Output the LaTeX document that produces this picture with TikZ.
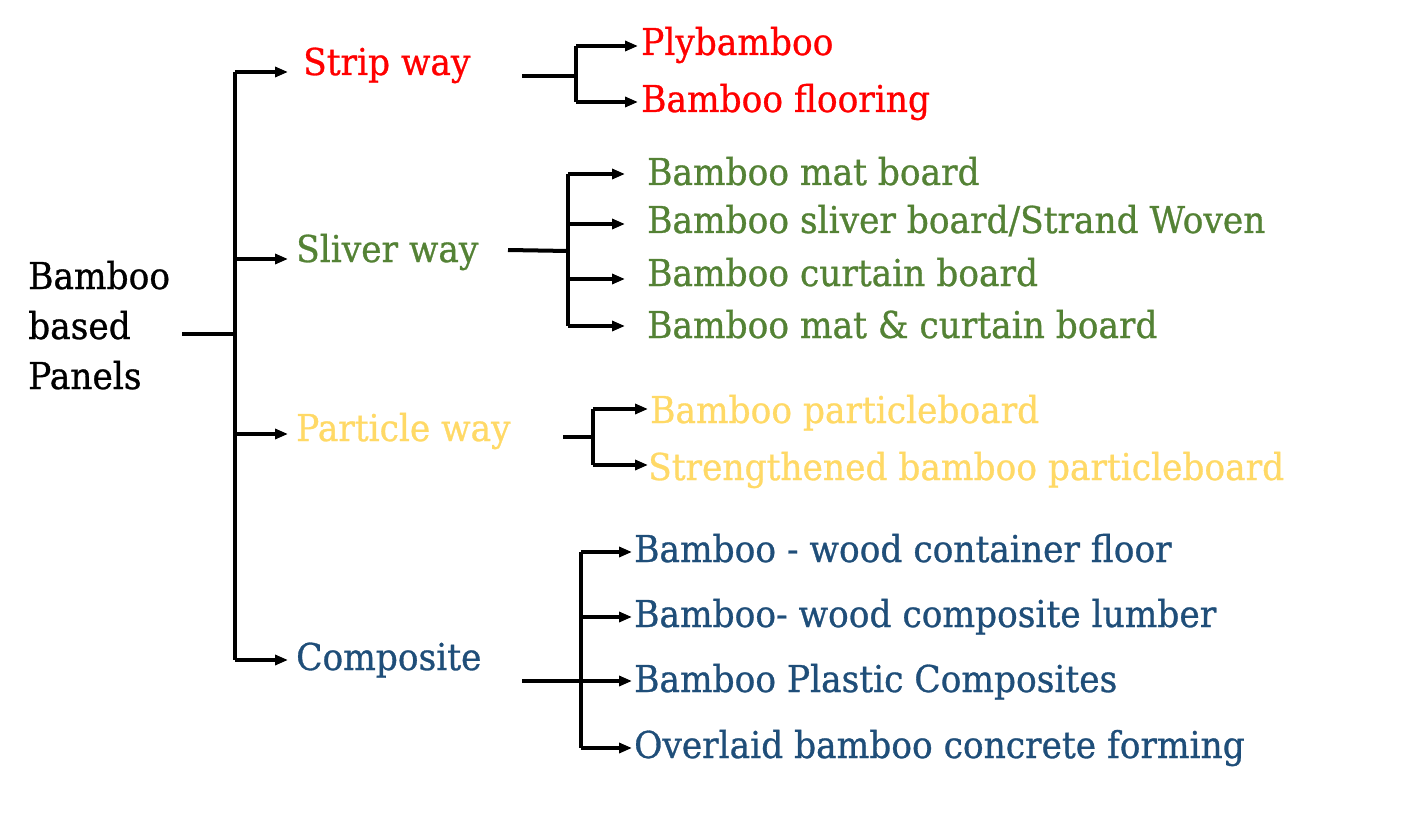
\documentclass[tikz,border=0pt]{standalone}
\usepackage{fontspec}
\setmainfont{DejaVu Serif}[FakeStretch=0.93,FakeBold=0.8]
\usetikzlibrary{arrows.meta}
\definecolor{cred}{HTML}{FF0000}
\definecolor{cgreen}{HTML}{548235}
\definecolor{cyellow}{HTML}{FFD966}
\definecolor{cblue}{HTML}{1F4E79}
\begin{document}
\begin{tikzpicture}[x=1pt,y=-1pt,
  lbl/.style={anchor=base west, inner sep=0pt, font=\fontsize{37}{37}\selectfont},
  ln/.style={line width=4pt},
  arr/.style={line width=4pt, -{Triangle[length=13pt,width=10pt]}}]
\useasboundingbox (0,0) rectangle (1411,829);

% root text
\node[lbl] (root1) at (28,289) {Bamboo};
\node[lbl] (root2) at (28,339) {based};
\node[lbl] (root3) at (28,389) {Panels};

% level 1
\node[lbl, text=cred]    (strip)    at (303,75)  {Strip way};
\node[lbl, text=cgreen]  (sliver)   at (296,262) {Sliver way};
\node[lbl, text=cyellow] (particle) at (296,441) {Particle way};
\node[lbl, text=cblue]   (comp)     at (296,670) {Composite};

% level 2
\node[lbl, text=cred] (s1) at (641,55)  {Plybamboo};
\node[lbl, text=cred] (s2) at (641,112) {Bamboo flooring};

\node[lbl, text=cgreen] (g1) at (647,185) {Bamboo mat board};
\node[lbl, text=cgreen] (g2) at (647,233) {Bamboo sliver board/Strand Woven};
\node[lbl, text=cgreen] (g3) at (647,286) {Bamboo curtain board};
\node[lbl, text=cgreen] (g4) at (647,338) {Bamboo mat \& curtain board};

\node[lbl, text=cyellow] (p1) at (650,423) {Bamboo particleboard};
\node[lbl, text=cyellow] (p2) at (648,480) {Strengthened bamboo particleboard};

\node[lbl, text=cblue] (c1) at (634,562) {Bamboo - wood container floor};
\node[lbl, text=cblue] (c2) at (634,627) {Bamboo- wood composite lumber};
\node[lbl, text=cblue] (c3) at (634,692) {Bamboo Plastic Composites};
\node[lbl, text=cblue] (c4) at (634,758) {Overlaid bamboo concrete forming};

% main trunk
\coordinate (r0) at (182,334);
\coordinate (rj) at (235,334);
\coordinate (t1) at (235,72);
\coordinate (t2) at (235,259);
\coordinate (t3) at (235,434);
\coordinate (t4) at (235,660);
\draw[ln] (r0) -- (rj);
\draw[ln] (t1) -- (t4);
\draw[arr, shorten >=15pt] (t1) -- (t1 -| strip.west);
\draw[arr, shorten >=8pt]  (t2) -- (t2 -| sliver.west);
\draw[arr, shorten >=8pt]  (t3) -- (t3 -| particle.west);
\draw[arr, shorten >=8pt]  (t4) -- (t4 -| comp.west);

% strip bracket
\coordinate (sa) at (522,76);
\coordinate (sj) at (576,76);
\coordinate (sv1) at (576,46);
\coordinate (sv2) at (576,102);
\draw[ln] (sa) -- (sj);
\draw[ln] (sv1) -- (sv2);
\draw[arr, shorten >=3pt] (sv1) -- (sv1 -| s1.west);
\draw[arr, shorten >=3pt] (sv2) -- (sv2 -| s2.west);

% sliver bracket
\coordinate (ga) at (508,250);
\coordinate (gj) at (568,251);
\coordinate (gv1) at (568,174);
\coordinate (gv2) at (568,224);
\coordinate (gv3) at (568,279);
\coordinate (gv4) at (568,326);
\draw[ln] (ga) -- (gj);
\draw[ln] (gv1) -- (gv4);
\draw[arr, shorten >=22pt] (gv1) -- (gv1 -| g1.west);
\draw[arr, shorten >=22pt] (gv2) -- (gv2 -| g2.west);
\draw[arr, shorten >=22pt] (gv3) -- (gv3 -| g3.west);
\draw[arr, shorten >=22pt] (gv4) -- (gv4 -| g4.west);

% particle bracket
\coordinate (pa) at (563,437);
\coordinate (pj) at (593,437);
\coordinate (pv1) at (593,409);
\coordinate (pv2) at (593,465);
\draw[ln] (pa) -- (pj);
\draw[ln] (pv1) -- (pv2);
\draw[arr, shorten >=2pt] (pv1) -- (pv1 -| p1.west);
\draw[arr, shorten >=0pt] (pv2) -- (pv2 -| p2.west);

% composite bracket
\coordinate (ca) at (522,681);
\coordinate (cv1) at (581,552);
\coordinate (cv2) at (581,617);
\coordinate (cv3) at (581,681);
\coordinate (cv4) at (581,748);
\draw[ln] (cv1) -- (cv4);
\draw[arr, shorten >=2pt] (ca) -- (cv3 -| c3.west);
\draw[arr, shorten >=2pt] (cv1) -- (cv1 -| c1.west);
\draw[arr, shorten >=2pt] (cv2) -- (cv2 -| c2.west);
\draw[arr, shorten >=2pt] (cv4) -- (cv4 -| c4.west);
\end{tikzpicture}
\end{document}
